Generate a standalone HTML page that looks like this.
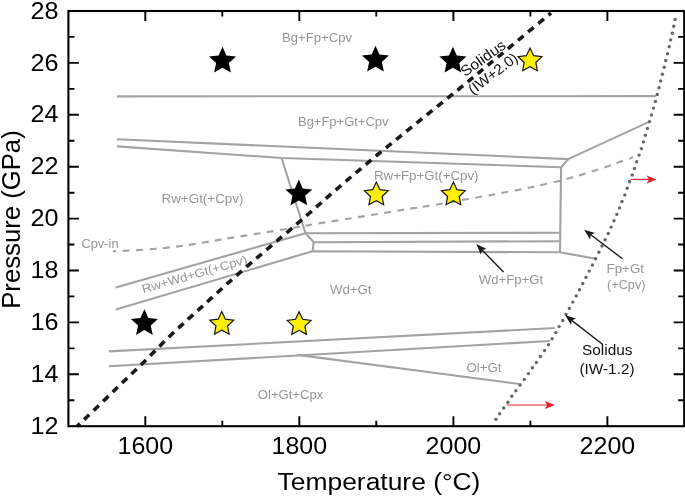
<!DOCTYPE html>
<html><head><meta charset="utf-8"><title>Phase diagram</title>
<style>html,body{margin:0;padding:0;background:#fff}svg{display:block}</style></head>
<body>
<svg width="685" height="497" viewBox="0 0 685 497">
<rect width="685" height="497" fill="#fff"/>
<g fill="none" stroke="#a3a3a3" stroke-width="2.1" stroke-linejoin="round"><path d="M117.0,96.4 L656.3,96.1" /><path d="M117.0,139.3 L568.2,159.1 L649.5,121.6" /><path d="M117.0,146.4 L281.5,158.0 L561.2,167.2 L568.2,159.1" /><path d="M561.1,167.0 L560.0,252.3" /><path d="M281.5,158.0 L305.5,233.2 L313.8,242.3 L312.5,251.2" /><path d="M115.8,287.4 L305.5,233.2 L559.5,232.8" /><path d="M313.8,242.3 L559.5,241.2" /><path d="M115.8,309.6 L312.5,251.2 L560.0,252.3 L595.6,258.7" /><path d="M108.9,351.4 L554.9,328.0" /><path d="M108.9,366.3 L549.9,341.0" /><path d="M297.5,354.9 L521.5,384.3" /></g>
<path d="M113.0,251.3 L116.1,251.1 M122.6,250.9 L129.4,250.5 M136.1,250.2 L142.9,249.8 M149.8,249.3 L156.6,248.7 M162.9,248.2 L169.7,247.4 M176.1,246.6 L182.9,245.8 M188.9,244.9 L195.7,243.9 M202.0,242.8 L208.8,241.6 M214.8,240.6 L221.6,239.4 M227.4,238.4 L234.2,237.4 M240.5,236.4 L247.3,235.4 M253.7,234.2 L260.5,233.2 M266.8,232.1 L273.6,231.1 M279.9,230.0 L286.7,229.0 M293.1,227.9 L299.9,226.7 M305.4,225.7 L312.2,224.5 M318.5,223.4 L325.3,222.4 M331.6,221.4 L338.4,220.4 M344.8,219.2 L351.6,218.2 M357.9,217.1 L364.7,216.1 M371.0,215.0 L377.8,214.0 M384.2,212.9 L391.0,211.9 M397.3,210.8 L404.1,209.6 M410.4,208.6 L417.2,207.6 M422.7,206.7 L429.5,205.7 M435.9,204.7 L442.7,203.5 M449.1,202.4 L455.7,201.2 M462.2,200.0 L468.8,198.8 M475.3,197.7 L482.1,196.5 M488.5,195.5 L495.1,194.3 M501.6,193.0 L508.2,191.8 M514.8,190.6 L521.4,189.2 M527.7,188.0 L534.3,186.6 M540.3,185.2 L546.9,183.8 M553.5,182.3 L560.1,180.7 M566.6,178.9 L573.2,177.1 M578.9,175.5 L585.5,173.5 M591.8,171.5 L598.2,169.5 M604.4,167.4 L610.8,165.2 M616.6,163.0 L623.0,160.8 M629.2,158.7 L633.2,157.3" fill="none" stroke="#a3a3a3" stroke-width="2.1"/>
<g font-family="'Liberation Sans', Arial, sans-serif">
<text x="282.0" y="41.7" font-size="12.2" fill="#969696" textLength="70.0" lengthAdjust="spacingAndGlyphs" >Bg+Fp+Cpv</text>
<text x="298" y="126.2" font-size="12.2" fill="#969696" textLength="90.5" lengthAdjust="spacingAndGlyphs" >Bg+Fp+Gt+Cpv</text>
<text x="161.5" y="203.1" font-size="12.2" fill="#969696" textLength="82" lengthAdjust="spacingAndGlyphs" >Rw+Gt(+Cpv)</text>
<text x="374" y="180.2" font-size="12.2" fill="#969696" textLength="104.5" lengthAdjust="spacingAndGlyphs" >Rw+Fp+Gt(+Cpv)</text>
<text x="81.5" y="247.5" font-size="12.2" fill="#969696" textLength="37" lengthAdjust="spacingAndGlyphs" >Cpv-in</text>
<text x="330" y="294.3" font-size="12.2" fill="#969696" textLength="41.5" lengthAdjust="spacingAndGlyphs" >Wd+Gt</text>
<text x="478.8" y="284.0" font-size="12.2" fill="#969696" textLength="64.3" lengthAdjust="spacingAndGlyphs" >Wd+Fp+Gt</text>
<text x="606.5" y="272.5" font-size="12.2" fill="#969696" textLength="37.5" lengthAdjust="spacingAndGlyphs" >Fp+Gt</text>
<text x="607" y="288.8" font-size="12.2" fill="#969696" textLength="38.5" lengthAdjust="spacingAndGlyphs" >(+Cpv)</text>
<text x="257.8" y="399.3" font-size="12.2" fill="#969696" textLength="65.5" lengthAdjust="spacingAndGlyphs" >Ol+Gt+Cpx</text>
<text x="466.5" y="371.5" font-size="12.2" fill="#969696" textLength="35" lengthAdjust="spacingAndGlyphs" >Ol+Gt</text>
<text transform="translate(143.2,293.3) rotate(-16)" font-size="12.2" fill="#969696" textLength="109" lengthAdjust="spacingAndGlyphs">Rw+Wd+Gt(+Cpv)</text>
</g>
<path d="M77.0,426.4 C78.6,424.8 80.4,423.1 86.8,417.0 C93.2,410.9 105.9,398.6 115.3,389.5 C124.7,380.4 134.0,371.7 143.3,362.6 C152.6,353.5 161.7,343.8 171.2,334.8 C180.7,325.8 188.8,318.6 200.1,308.4 C211.3,298.2 222.5,287.7 238.7,273.6 C254.9,259.5 280.7,237.9 297.2,223.7 C313.7,209.5 324.2,199.9 337.6,188.4 C351.0,176.9 364.2,165.7 377.8,154.5 C391.4,143.3 405.3,132.2 419.0,121.2 C432.7,110.2 446.7,99.0 460.0,88.2 C473.3,77.4 483.8,68.6 499.0,56.1 C514.2,43.6 542.3,20.2 551.0,13.0" fill="none" stroke="#1a1a1a" stroke-width="3.6" stroke-dasharray="7.2 5.9" stroke-dashoffset="3.05"/>
<g fill="#666"><circle cx="675.1" cy="19.4" r="1.7"/><circle cx="673.7" cy="26.3" r="1.7"/><circle cx="672.3" cy="33.2" r="1.7"/><circle cx="670.6" cy="39.9" r="1.7"/><circle cx="669.2" cy="46.8" r="1.7"/><circle cx="667.5" cy="53.7" r="1.7"/><circle cx="665.8" cy="60.5" r="1.7"/><circle cx="664.2" cy="67.3" r="1.7"/><circle cx="662.4" cy="74.2" r="1.7"/><circle cx="660.7" cy="81.0" r="1.7"/><circle cx="659.0" cy="87.8" r="1.7"/><circle cx="657.3" cy="94.5" r="1.7"/><circle cx="655.4" cy="101.5" r="1.7"/><circle cx="653.5" cy="108.1" r="1.7"/><circle cx="651.4" cy="115.0" r="1.7"/><circle cx="649.5" cy="121.6" r="1.7"/><circle cx="647.4" cy="128.4" r="1.7"/><circle cx="645.4" cy="135.2" r="1.7"/><circle cx="643.4" cy="141.9" r="1.7"/><circle cx="641.4" cy="148.6" r="1.7"/><circle cx="639.1" cy="155.1" r="1.7"/><circle cx="636.7" cy="161.7" r="1.7"/><circle cx="634.5" cy="168.4" r="1.7"/><circle cx="632.2" cy="175.0" r="1.7"/><circle cx="629.6" cy="181.7" r="1.7"/><circle cx="627.2" cy="188.3" r="1.7"/><circle cx="624.8" cy="194.9" r="1.7"/><circle cx="622.0" cy="201.5" r="1.7"/><circle cx="619.5" cy="207.9" r="1.7"/><circle cx="616.8" cy="214.4" r="1.7"/><circle cx="614.0" cy="220.8" r="1.7"/><circle cx="611.1" cy="227.1" r="1.7"/><circle cx="608.3" cy="233.5" r="1.7"/><circle cx="605.2" cy="239.8" r="1.7"/><circle cx="602.0" cy="246.0" r="1.7"/><circle cx="598.9" cy="252.3" r="1.7"/><circle cx="595.6" cy="258.7" r="1.7"/><circle cx="592.4" cy="265.0" r="1.7"/><circle cx="589.2" cy="271.1" r="1.7"/><circle cx="586.0" cy="277.4" r="1.7"/><circle cx="582.7" cy="283.5" r="1.7"/><circle cx="579.5" cy="289.8" r="1.7"/><circle cx="576.3" cy="295.9" r="1.7"/><circle cx="572.8" cy="302.1" r="1.7"/><circle cx="569.4" cy="308.4" r="1.7"/><circle cx="566.1" cy="314.5" r="1.7"/><circle cx="562.8" cy="320.5" r="1.7"/><circle cx="559.1" cy="326.6" r="1.7"/><circle cx="555.8" cy="332.6" r="1.7"/><circle cx="552.1" cy="338.8" r="1.7"/><circle cx="548.5" cy="344.8" r="1.7"/><circle cx="544.6" cy="350.5" r="1.7"/><circle cx="540.4" cy="356.5" r="1.7"/><circle cx="536.4" cy="362.4" r="1.7"/><circle cx="532.4" cy="367.8" r="1.7"/><circle cx="528.4" cy="373.6" r="1.7"/><circle cx="524.3" cy="379.4" r="1.7"/><circle cx="520.0" cy="385.1" r="1.7"/><circle cx="515.9" cy="390.8" r="1.7"/><circle cx="511.8" cy="396.3" r="1.7"/><circle cx="507.9" cy="402.2" r="1.7"/><circle cx="503.7" cy="408.0" r="1.7"/><circle cx="499.7" cy="413.7" r="1.7"/><circle cx="495.9" cy="419.3" r="1.7"/></g>
<polygon points="222.50,46.80 226.42,55.60 236.01,56.61 228.85,63.06 230.85,72.49 222.50,67.67 214.15,72.49 216.15,63.06 208.99,56.61 218.58,55.60" fill="#000"/>
<polygon points="375.50,45.80 379.42,54.60 389.01,55.61 381.85,62.06 383.85,71.49 375.50,66.67 367.15,71.49 369.15,62.06 361.99,55.61 371.58,54.60" fill="#000"/>
<polygon points="452.90,46.80 456.82,55.60 466.41,56.61 459.25,63.06 461.25,72.49 452.90,67.67 444.55,72.49 446.55,63.06 439.39,56.61 448.98,55.60" fill="#000"/>
<polygon points="298.80,179.60 302.72,188.40 312.31,189.41 305.15,195.86 307.15,205.29 298.80,200.47 290.45,205.29 292.45,195.86 285.29,189.41 294.88,188.40" fill="#000"/>
<polygon points="144.40,309.20 148.32,318.00 157.91,319.01 150.75,325.46 152.75,334.89 144.40,330.07 136.05,334.89 138.05,325.46 130.89,319.01 140.48,318.00" fill="#000"/>
<polygon points="530.00,48.10 533.60,55.64 541.89,56.74 535.83,62.49 537.35,70.71 530.00,66.72 522.65,70.71 524.17,62.49 518.11,56.74 526.40,55.64" fill="#ffee0a" stroke="#151515" stroke-width="1.2" stroke-linejoin="miter"/>
<polygon points="376.30,182.10 379.90,189.64 388.19,190.74 382.13,196.49 383.65,204.71 376.30,200.72 368.95,204.71 370.47,196.49 364.41,190.74 372.70,189.64" fill="#ffee0a" stroke="#151515" stroke-width="1.2" stroke-linejoin="miter"/>
<polygon points="453.40,182.10 457.00,189.64 465.29,190.74 459.23,196.49 460.75,204.71 453.40,200.72 446.05,204.71 447.57,196.49 441.51,190.74 449.80,189.64" fill="#ffee0a" stroke="#151515" stroke-width="1.2" stroke-linejoin="miter"/>
<polygon points="221.80,311.60 225.40,319.14 233.69,320.24 227.63,325.99 229.15,334.21 221.80,330.23 214.45,334.21 215.97,325.99 209.91,320.24 218.20,319.14" fill="#ffee0a" stroke="#151515" stroke-width="1.2" stroke-linejoin="miter"/>
<polygon points="299.10,311.70 302.70,319.24 310.99,320.34 304.93,326.09 306.45,334.31 299.10,330.32 291.75,334.31 293.27,326.09 287.21,320.34 295.50,319.24" fill="#ffee0a" stroke="#151515" stroke-width="1.2" stroke-linejoin="miter"/>
<path d="M503.5,272.1 L482.1,250.0" stroke="#1a1a1a" stroke-width="1.4" fill="none"/>
<path d="M476.3,244.1 L486.6,248.9 L482.1,250.0 L480.8,254.5 Z" fill="#1a1a1a"/>
<path d="M622.5,258.8 L590.8,234.8" stroke="#1a1a1a" stroke-width="1.4" fill="none"/>
<path d="M584.2,229.8 L595.1,233.0 L590.8,234.8 L590.2,239.4 Z" fill="#1a1a1a"/>
<path d="M602.5,344.3 L571.7,320.4" stroke="#1a1a1a" stroke-width="1.4" fill="none"/>
<path d="M565.2,315.3 L576.0,318.6 L571.7,320.4 L571.1,325.0 Z" fill="#1a1a1a"/>
<path d="M630.6,179.4 L648.8,179.4" stroke="#e3202c" stroke-width="1.1" fill="none"/>
<path d="M656.6,179.4 L646.6,183.4 L648.8,179.4 L646.6,175.4 Z" fill="#e3202c"/>
<path d="M506.7,405.0 L547.1,405.0" stroke="#e3202c" stroke-width="1.1" fill="none"/>
<path d="M554.9,405.0 L544.9,409.0 L547.1,405.0 L544.9,401.0 Z" fill="#e3202c"/>
<g font-family="'Liberation Sans', Arial, sans-serif" fill="#111">
<text x="582" y="355.2" font-size="14" textLength="50.5" lengthAdjust="spacingAndGlyphs">Solidus</text>
<text x="579.5" y="373.8" font-size="14" textLength="55" lengthAdjust="spacingAndGlyphs">(IW-1.2)</text>
<g stroke="#fff" stroke-width="1.2" paint-order="stroke" stroke-linejoin="round">
<text transform="translate(465,77.3) rotate(-35.5)" font-size="14.8" textLength="51.5" lengthAdjust="spacingAndGlyphs">Solidus</text>
<text transform="translate(473,95.2) rotate(-37.5)" font-size="14.8" textLength="58" lengthAdjust="spacingAndGlyphs">(IW+2.0)</text>
</g>
</g>
<rect x="68.4" y="11.0" width="615.8000000000001" height="415.2" fill="none" stroke="#000" stroke-width="2.1"/>
<path d="M145.3,426.2 v-10 M145.3,11.0 v10 M222.3,426.2 v-5.5 M222.3,11.0 v5.5 M299.3,426.2 v-10 M299.3,11.0 v10 M376.3,426.2 v-5.5 M376.3,11.0 v5.5 M453.4,426.2 v-10 M453.4,11.0 v10 M530.4,426.2 v-5.5 M530.4,11.0 v5.5 M607.4,426.2 v-10 M607.4,11.0 v10 M68.4,400.2 h6 M684.2,400.2 h-6 M68.4,374.3 h10.5 M684.2,374.3 h-10.5 M68.4,348.4 h6 M684.2,348.4 h-6 M68.4,322.4 h10.5 M684.2,322.4 h-10.5 M68.4,296.4 h6 M684.2,296.4 h-6 M68.4,270.5 h10.5 M684.2,270.5 h-10.5 M68.4,244.5 h6 M684.2,244.5 h-6 M68.4,218.6 h10.5 M684.2,218.6 h-10.5 M68.4,192.7 h6 M684.2,192.7 h-6 M68.4,166.7 h10.5 M684.2,166.7 h-10.5 M68.4,140.8 h6 M684.2,140.8 h-6 M68.4,114.8 h10.5 M684.2,114.8 h-10.5 M68.4,88.9 h6 M684.2,88.9 h-6 M68.4,62.9 h10.5 M684.2,62.9 h-10.5 M68.4,36.9 h6 M684.2,36.9 h-6" stroke="#000" stroke-width="1.9" fill="none"/>
<g font-family="'Liberation Sans', Arial, sans-serif" fill="#000" font-size="23.7">
<text x="117.5" y="453.6" textLength="55.6" lengthAdjust="spacingAndGlyphs">1600</text>
<text x="271.5" y="453.6" textLength="55.6" lengthAdjust="spacingAndGlyphs">1800</text>
<text x="425.6" y="453.6" textLength="55.6" lengthAdjust="spacingAndGlyphs">2000</text>
<text x="579.6" y="453.6" textLength="55.6" lengthAdjust="spacingAndGlyphs">2200</text>
<text x="30.5" y="433.8" textLength="28" lengthAdjust="spacingAndGlyphs">12</text>
<text x="30.5" y="381.9" textLength="28" lengthAdjust="spacingAndGlyphs">14</text>
<text x="30.5" y="330.0" textLength="28" lengthAdjust="spacingAndGlyphs">16</text>
<text x="30.5" y="278.1" textLength="28" lengthAdjust="spacingAndGlyphs">18</text>
<text x="30.5" y="226.2" textLength="28" lengthAdjust="spacingAndGlyphs">20</text>
<text x="30.5" y="174.3" textLength="28" lengthAdjust="spacingAndGlyphs">22</text>
<text x="30.5" y="122.4" textLength="28" lengthAdjust="spacingAndGlyphs">24</text>
<text x="30.5" y="70.5" textLength="28" lengthAdjust="spacingAndGlyphs">26</text>
<text x="30.5" y="18.6" textLength="28" lengthAdjust="spacingAndGlyphs">28</text>
<text x="277.6" y="490.1" font-size="23.5" textLength="202.8" lengthAdjust="spacingAndGlyphs">Temperature (°C)</text>
<text transform="translate(19.5,308.8) rotate(-90)" font-size="25.3" textLength="178.5" lengthAdjust="spacingAndGlyphs">Pressure (GPa)</text>
</g>
</svg>
</body></html>
